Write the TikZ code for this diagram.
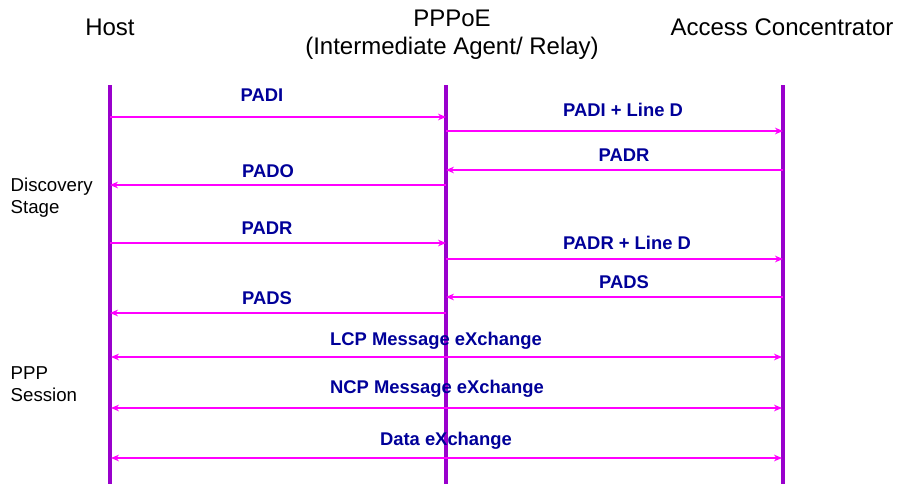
\documentclass[tikz,border=0pt]{standalone}
\usepackage{fontspec}
\setmainfont{Liberation Sans}
\usetikzlibrary{arrows.meta}
\definecolor{life}{RGB}{153,0,204}
\definecolor{msg}{RGB}{255,0,255}
\definecolor{lbl}{RGB}{0,0,153}
\begin{document}
\begin{tikzpicture}[x=0.75pt,y=-0.75pt,
  life/.style={line width=2.6pt,draw=life},
  m/.style={draw=msg,line width=0.8pt,-{Stealth[length=6pt,width=5pt]}},
  mb/.style={draw=msg,line width=0.8pt,{Stealth[length=6pt,width=5pt]}-{Stealth[length=6pt,width=5pt]}},
  ml/.style={text=lbl,font=\bfseries\fontsize{13.8}{16}\selectfont},
  hd/.style={font=\fontsize{18}{21}\selectfont},
  sd/.style={font=\fontsize{14}{16.5}\selectfont,anchor=west,align=left}]
\useasboundingbox (0,0) rectangle (904,486);
\node[hd] (h1) at (110,27) {Host};
\node[hd,align=center] (h2) at (452,35) {PPPoE\\(Intermediate Agent/ Relay)};
\node[hd] (h3) at (782,27) {Access Concentrator};
\coordinate (a1) at (110,85); \coordinate (a2) at (110,484);
\coordinate (b1) at (446,85); \coordinate (b2) at (446,484);
\coordinate (c1) at (783,85); \coordinate (c2) at (783,484);
\draw[life] (a1)--(a2); \draw[life] (b1)--(b2); \draw[life] (c1)--(c2);
\node[sd] (s1) at (6,198) {Discovery\\Stage};
\node[sd] (s2) at (6,384) {PPP\\Session};
\foreach \n/\fx/\tx/\y/\lx/\ly/\t in {
 1/110/446/117/262/95/PADI,
 2/446/783/131/623/110/PADI + Line D,
 3/783/446/170/624/155/PADR,
 4/446/110/185/268/171/PADO,
 5/110/446/243/267/228/PADR,
 6/446/783/259/627/243/PADR + Line D,
 7/783/446/297/624/282/PADS,
 8/446/110/313/267/298/PADS}{
 \coordinate (f\n) at (\fx,\y); \coordinate (t\n) at (\tx,\y);
 \draw[m] (f\n)--(t\n);
 \node[ml] (l\n) at (\lx,\ly) {\t};
}
\foreach \n/\y/\lx/\ly/\t in {
 9/357/436/341/LCP Message eXchange,
 10/408/437/389/NCP Message eXchange,
 11/458/446/441/Data eXchange}{
 \coordinate (f\n) at (111,\y); \coordinate (t\n) at (782,\y);
 \draw[mb] (f\n)--(t\n);
 \node[ml] (l\n) at (\lx,\ly) {\t};
}
\end{tikzpicture}
\end{document}
